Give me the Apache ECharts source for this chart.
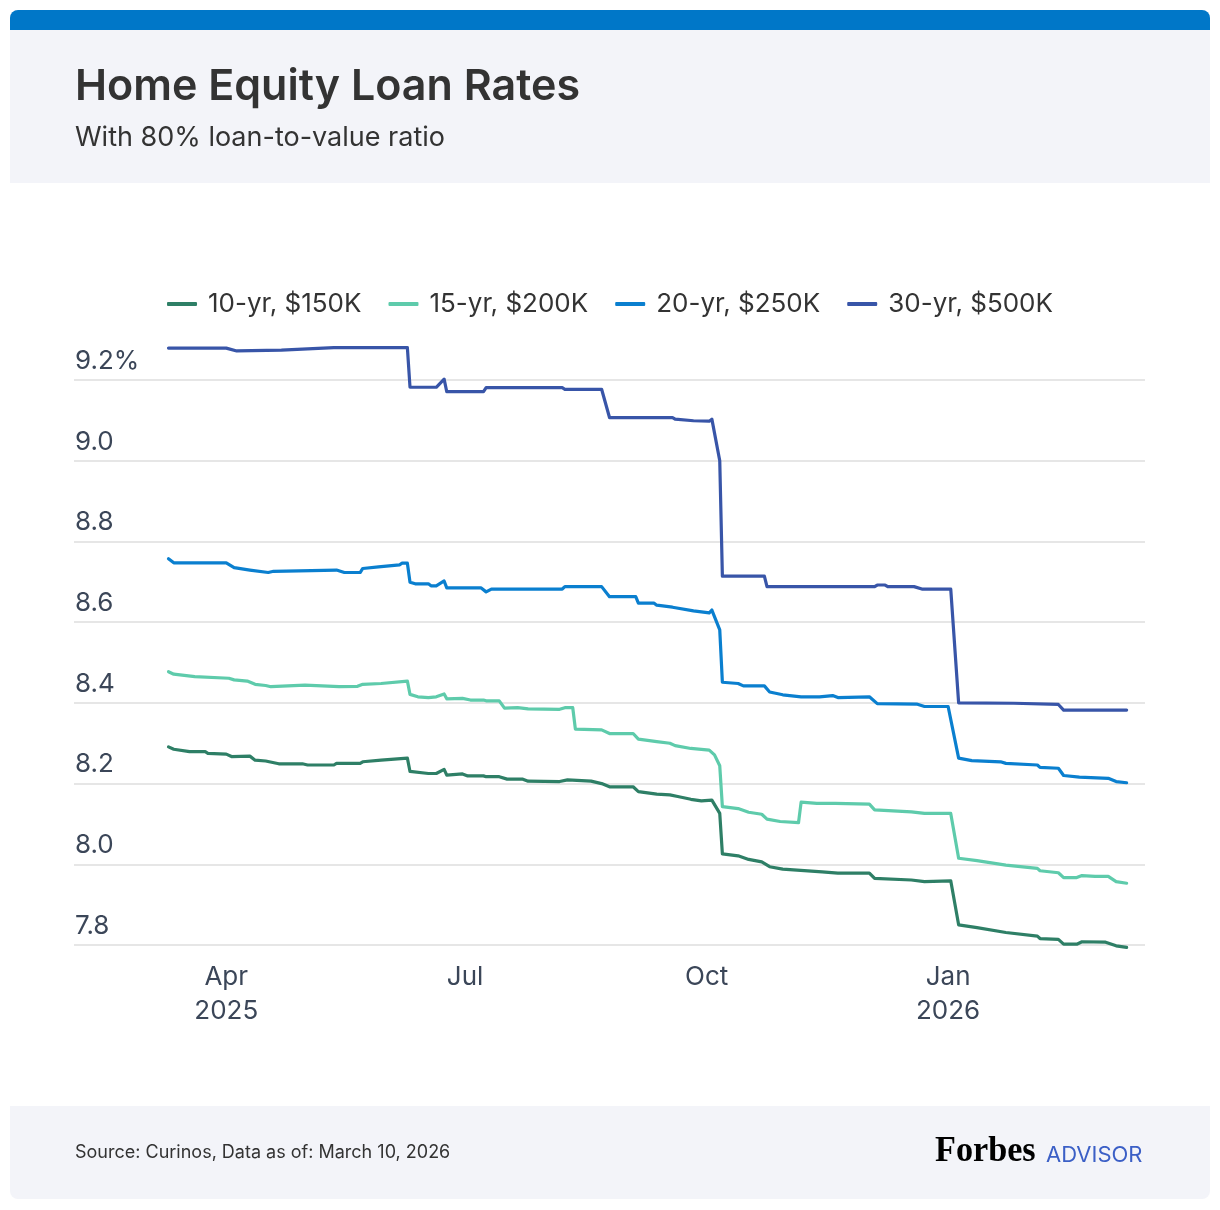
<!DOCTYPE html>
<html><head><meta charset="utf-8">
<script src="https://cdn.jsdelivr.net/npm/echarts@6/dist/echarts.min.js"></script>
<style>html,body{margin:0;padding:0;background:#fff}#c{width:1220px;height:1210px}</style>
</head><body><div id="c"></div>
<script>
// ---- data ----
const seriesNames = ['10-yr, $150K', '15-yr, $200K', '20-yr, $250K', '30-yr, $500K'];

const dates10 = ['2025-03-10','2025-03-12','2025-03-18','2025-03-24','2025-03-25','2025-04-01','2025-04-03','2025-04-10','2025-04-12','2025-04-16','2025-04-21','2025-04-30','2025-05-02','2025-05-12','2025-05-13','2025-05-22','2025-05-23','2025-05-30','2025-06-09','2025-06-10','2025-06-17','2025-06-20','2025-06-23','2025-06-24','2025-06-30','2025-07-02','2025-07-08','2025-07-09','2025-07-14','2025-07-17','2025-07-23','2025-07-25','2025-08-06','2025-08-09','2025-08-18','2025-08-22','2025-08-25','2025-09-03','2025-09-05','2025-09-12','2025-09-17','2025-09-20','2025-09-25','2025-09-29','2025-10-03','2025-10-06','2025-10-07','2025-10-13','2025-10-17','2025-10-22','2025-10-25','2025-10-30','2025-11-14','2025-11-20','2025-12-02','2025-12-04','2025-12-18','2025-12-23','2026-01-02','2026-01-05','2026-01-12','2026-01-23','2026-02-04','2026-02-05','2026-02-12','2026-02-14','2026-02-19','2026-02-21','2026-03-02','2026-03-06','2026-03-10'];
const rates10 = [8.291,8.285,8.279,8.279,8.275,8.273,8.267,8.268,8.258,8.256,8.249,8.249,8.246,8.246,8.250,8.250,8.254,8.258,8.263,8.230,8.225,8.225,8.235,8.221,8.224,8.219,8.219,8.217,8.217,8.211,8.211,8.206,8.205,8.209,8.206,8.200,8.192,8.192,8.180,8.174,8.172,8.168,8.161,8.157,8.159,8.126,8.026,8.021,8.012,8.006,7.994,7.988,7.981,7.978,7.978,7.965,7.961,7.957,7.959,7.850,7.843,7.831,7.822,7.816,7.814,7.802,7.802,7.808,7.807,7.798,7.794];

const dates15 = ['2025-03-10','2025-03-12','2025-03-20','2025-04-02','2025-04-04','2025-04-09','2025-04-12','2025-04-16','2025-04-18','2025-05-01','2025-05-14','2025-05-21','2025-05-23','2025-05-30','2025-06-09','2025-06-10','2025-06-13','2025-06-17','2025-06-20','2025-06-23','2025-06-24','2025-06-30','2025-07-03','2025-07-08','2025-07-09','2025-07-14','2025-07-16','2025-07-21','2025-07-25','2025-08-06','2025-08-08','2025-08-11','2025-08-12','2025-08-22','2025-08-25','2025-09-03','2025-09-05','2025-09-12','2025-09-17','2025-09-19','2025-09-25','2025-10-02','2025-10-04','2025-10-06','2025-10-07','2025-10-13','2025-10-17','2025-10-22','2025-10-24','2025-10-29','2025-11-05','2025-11-06','2025-11-12','2025-11-19','2025-12-02','2025-12-04','2025-12-18','2025-12-23','2026-01-02','2026-01-05','2026-01-12','2026-01-23','2026-02-04','2026-02-05','2026-02-12','2026-02-14','2026-02-19','2026-02-21','2026-02-26','2026-03-03','2026-03-06','2026-03-10'];
const rates15 = [8.477,8.471,8.465,8.461,8.457,8.454,8.446,8.443,8.440,8.444,8.440,8.441,8.446,8.448,8.454,8.421,8.415,8.413,8.415,8.422,8.410,8.411,8.407,8.407,8.405,8.405,8.387,8.388,8.385,8.384,8.388,8.388,8.335,8.333,8.324,8.324,8.310,8.304,8.300,8.294,8.287,8.283,8.271,8.244,8.143,8.138,8.129,8.124,8.112,8.106,8.103,8.154,8.151,8.151,8.149,8.135,8.130,8.126,8.126,8.015,8.009,7.998,7.990,7.984,7.979,7.967,7.967,7.972,7.970,7.970,7.957,7.953];

const dates20 = ['2025-03-10','2025-03-12','2025-04-01','2025-04-04','2025-04-10','2025-04-17','2025-04-19','2025-05-13','2025-05-16','2025-05-22','2025-05-23','2025-05-29','2025-06-06','2025-06-07','2025-06-09','2025-06-10','2025-06-12','2025-06-17','2025-06-18','2025-06-20','2025-06-23','2025-06-24','2025-07-07','2025-07-09','2025-07-11','2025-08-07','2025-08-08','2025-08-22','2025-08-25','2025-09-04','2025-09-05','2025-09-11','2025-09-12','2025-09-18','2025-09-26','2025-10-02','2025-10-03','2025-10-06','2025-10-07','2025-10-13','2025-10-15','2025-10-23','2025-10-25','2025-10-30','2025-11-06','2025-11-13','2025-11-18','2025-11-20','2025-12-02','2025-12-05','2025-12-20','2025-12-23','2026-01-01','2026-01-05','2026-01-10','2026-01-21','2026-01-23','2026-02-04','2026-02-05','2026-02-12','2026-02-14','2026-02-20','2026-03-03','2026-03-06','2026-03-10'];
const rates20 = [8.757,8.747,8.747,8.735,8.729,8.723,8.726,8.729,8.723,8.723,8.733,8.737,8.742,8.746,8.746,8.699,8.695,8.695,8.690,8.690,8.702,8.685,8.685,8.675,8.682,8.682,8.688,8.688,8.663,8.663,8.647,8.647,8.642,8.637,8.628,8.623,8.630,8.581,8.451,8.448,8.442,8.442,8.427,8.420,8.415,8.415,8.418,8.413,8.415,8.398,8.397,8.391,8.391,8.263,8.257,8.254,8.250,8.246,8.240,8.238,8.220,8.216,8.213,8.205,8.202];

const dates30 = ['2025-03-10','2025-04-01','2025-04-05','2025-04-22','2025-05-12','2025-06-09','2025-06-10','2025-06-20','2025-06-23','2025-06-24','2025-07-08','2025-07-09','2025-08-07','2025-08-08','2025-08-22','2025-08-25','2025-09-18','2025-09-19','2025-09-26','2025-10-02','2025-10-03','2025-10-06','2025-10-07','2025-10-23','2025-10-24','2025-12-04','2025-12-05','2025-12-08','2025-12-09','2025-12-19','2025-12-22','2026-01-02','2026-01-05','2026-01-26','2026-02-12','2026-02-14','2026-03-10'];
const rates30 = [9.279,9.279,9.272,9.274,9.280,9.280,9.182,9.182,9.202,9.171,9.171,9.181,9.181,9.177,9.177,9.107,9.107,9.103,9.099,9.098,9.103,9.000,8.714,8.714,8.688,8.688,8.692,8.692,8.688,8.688,8.682,8.682,8.400,8.399,8.396,8.382,8.382];

const yTicks = [7.8, 8.0, 8.2, 8.4, 8.6, 8.8, 9.0, 9.2];
const yTickLabels = ['7.8', '8.0', '8.2', '8.4', '8.6', '8.8', '9.0', '9.2%'];
const xTickDates = ['2025-04-01', '2025-07-01', '2025-10-01', '2026-01-01'];
const xTickLabels = ['Apr\n2025', 'Jul', 'Oct', 'Jan\n2026'];
const xRange = ['2025-02-02', '2026-03-17'];

// ---- helpers ----
const toTs = s => { const [y, m, d] = s.split('-').map(Number); return Date.UTC(y, m - 1, d); };
const colors = ['#2e7f66', '#5ecbab', '#0a7fcf', '#3855a8'];
const FONT = 'Inter, "Noto Sans", sans-serif';
const allDates = [dates10, dates15, dates20, dates30];
const allRates = [rates10, rates15, rates20, rates30];
const xTickTs = xTickDates.map(toTs);

const chart = echarts.init(document.getElementById('c'), null, { renderer: 'canvas' });

const option = {
  animation: false,
  backgroundColor: '#ffffff',
  textStyle: { fontFamily: FONT },
  graphic: [
    { type: 'rect', shape: { x: 10, y: 10, width: 1200, height: 173, r: [8, 8, 0, 0] }, style: { fill: '#f3f4f9' }, z: -10 },
    { type: 'rect', shape: { x: 10, y: 10, width: 1200, height: 20, r: [8, 8, 0, 0] }, style: { fill: '#0077c8' }, z: -9 },
    { type: 'rect', shape: { x: 10, y: 1106, width: 1200, height: 93, r: [0, 0, 8, 8] }, style: { fill: '#f3f4f9' }, z: -10 },
    { type: 'text', left: 75, top: 66, style: { text: 'Home Equity Loan Rates', font: '600 43px ' + FONT, fill: '#333333' } },
    { type: 'text', left: 75, top: 124, style: { text: 'With 80% loan-to-value ratio', font: '400 27px ' + FONT, fill: '#333333' } },
    { type: 'text', left: 75, top: 1144, style: { text: 'Source: Curinos, Data as of: March 10, 2026', font: '400 18px ' + FONT, fill: '#333333' } },
    { type: 'text', left: 935, top: 1134, scaleX: 0.95, style: { text: 'Forbes', font: '700 36px "Liberation Serif", "DejaVu Serif", serif', fill: '#000000' } },
    { type: 'text', left: 1046, top: 1144, style: { text: 'ADVISOR', font: '400 22px ' + FONT, fill: '#3b5fc6' } }
  ],
  legend: {
    top: 286,
    left: 'center',
    icon: 'roundRect',
    itemWidth: 30,
    itemHeight: 4,
    itemGap: 27,
    textStyle: { fontSize: 26, color: '#333333', fontFamily: FONT, padding: [0, 0, 0, 6] },
    data: seriesNames
  },
  grid: { left: 74, right: 75, top: 380, bottom: 265, containLabel: false },
  xAxis: {
    type: 'value',
    min: toTs(xRange[0]),
    max: toTs(xRange[1]),
    axisLine: { show: false },
    axisTick: { show: false },
    splitLine: { show: false },
    axisLabel: {
      customValues: xTickTs,
      margin: 15,
      fontSize: 26,
      lineHeight: 34,
      color: '#3b4658',
      fontFamily: FONT,
      formatter: v => { const i = xTickTs.indexOf(v); return i >= 0 ? xTickLabels[i] : ''; }
    }
  },
  yAxis: {
    type: 'value',
    min: yTicks[0],
    max: yTicks[yTicks.length - 1],
    interval: 0.2,
    axisLine: { show: false },
    axisTick: { show: false },
    splitLine: { lineStyle: { color: '#e6e6e6', width: 2 } },
    axisLabel: {
      inside: true,
      margin: 1,
      verticalAlign: 'bottom',
      padding: [0, 0, 6, 0],
      fontSize: 26,
      color: '#3b4658',
      fontFamily: FONT,
      formatter: v => { const r = Math.round(v * 10) / 10; const i = yTicks.findIndex(t => Math.abs(t - r) < 1e-6); return i >= 0 ? yTickLabels[i] : ''; }
    }
  },
  series: seriesNames.map((name, k) => ({
    name,
    type: 'line',
    symbol: 'none',
    showSymbol: false,
    clip: false,
    color: colors[k],
    lineStyle: { width: 3.2, color: colors[k], cap: 'round', join: 'round' },
    emphasis: { disabled: true },
    data: allDates[k].map((d, i) => [toTs(d), allRates[k][i]])
  }))
};
chart.setOption(option);
</script>
</body></html>
